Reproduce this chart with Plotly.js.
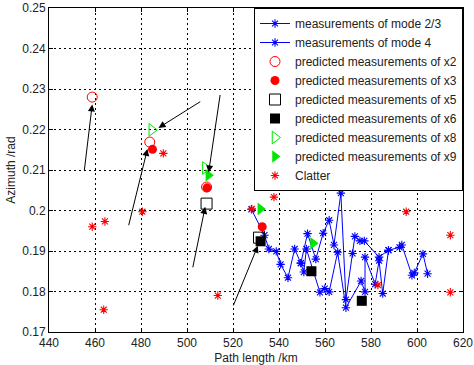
<!DOCTYPE html>
<html><head><meta charset="utf-8">
<script src="https://cdn.plot.ly/plotly-3.0.1.min.js"></script>
<style>html,body{margin:0;padding:0;background:#fff}#c{width:474px;height:365px}</style>
</head><body><div id="c"></div>
<script>
// Measurement tracks
const mode23X = [528.0, 533.7, 535.6, 538.8, 540.7, 543.9, 546.8, 549.5, 552.4, 556.0, 559.2, 561.8, 563.9, 566.9, 569.1, 572.0, 573.0, 575.2, 577.1, 583.5, 587.6, 592.4, 593.4, 597.8, 598.8, 602.6, 604.6];
const mode23Y = [0.2003, 0.1939, 0.1905, 0.1899, 0.1867, 0.1834, 0.1905, 0.1870, 0.1943, 0.1880, 0.1944, 0.1976, 0.1915, 0.2043, 0.1780, 0.1894, 0.1936, 0.1925, 0.1925, 0.1885, 0.1902, 0.1909, 0.1915, 0.1840, 0.1846, 0.1893, 0.1844];
const mode4X = [549.5, 550.8, 551.9, 557.8, 559.9, 561.8, 565.5, 569.1, 575.7, 577.4, 577.4, 581.8, 583.5, 585.1, 587.6];
const mode4Y = [0.1870, 0.1848, 0.1905, 0.1798, 0.1807, 0.1799, 0.1897, 0.1760, 0.1826, 0.1799, 0.1885, 0.1818, 0.1876, 0.1795, 0.1902];
// Predicted measurements
const x2X = [458.8, 483.8, 508.5]; const x2Y = [0.2280, 0.2169, 0.2058];
const x3X = [485.0, 508.7, 532.7]; const x3Y = [0.2151, 0.2056, 0.1960];
const x5X = [508.5, 531.3]; const x5Y = [0.2017, 0.1933];
const x6X = [532.0, 554.1, 576.0]; const x6Y = [0.1924, 0.1850, 0.1777];
const x8X = [484.7, 508.0]; const x8Y = [0.2199, 0.2105];
const x9X = [509.3, 531.9, 554.8]; const x9Y = [0.2087, 0.2004, 0.1919];
// Clutter
const clX = [489.7, 458.8, 464.3, 480.6, 463.8, 513.4, 537.8, 528.2, 595.3, 614.5, 614.5, 583.0];
const clY = [0.2141, 0.1960, 0.1973, 0.1997, 0.1755, 0.1790, 0.2033, 0.2004, 0.1997, 0.1939, 0.1798, 0.1816];
// Arrows: [tailX, tailY, headX, headY]
const arrows = [
  [455.3, 0.2096, 458.8, 0.2262],
  [474.5, 0.1960, 482.8, 0.2152],
  [506.4, 0.2271, 487.6, 0.2204],
  [514.5, 0.2289, 509.4, 0.2094],
  [502.4, 0.1856, 507.9, 0.2009],
  [519.9, 0.1762, 530.8, 0.1913]
];
const yTicks = [0.17, 0.18, 0.19, 0.2, 0.21, 0.22, 0.23, 0.24, 0.25];
const yTickText = ['0.17','0.18','0.19','0.2','0.21','0.22','0.23','0.24','0.25'];
const xTicks = [440, 460, 480, 500, 520, 540, 560, 580, 600, 620];

const BLUE = 'rgb(0,0,255)', RED = 'rgb(255,0,0)', GREEN = 'rgb(0,230,0)';
const star = (c) => ({symbol: 'asterisk-open', size: 7, color: c, line: {color: c, width: 1.1}});
const traces = [
  {x: mode23X, y: mode23Y, mode: 'lines+markers', name: 'measurements of mode 2/3', line: {color: BLUE, width: 1}, marker: star(BLUE)},
  {x: mode4X, y: mode4Y, mode: 'lines+markers', name: 'measurements of mode 4', line: {color: BLUE, width: 1}, marker: star(BLUE)},
  {x: x2X, y: x2Y, mode: 'markers', name: 'predicted measurements of x2', marker: {symbol: 'circle-open', size: 10, color: RED, line: {color: RED, width: 1}}},
  {x: x3X, y: x3Y, mode: 'markers', name: 'predicted measurements of x3', marker: {symbol: 'circle', size: 9, color: RED}},
  {x: x5X, y: x5Y, mode: 'markers', name: 'predicted measurements of x5', marker: {symbol: 'square-open', size: 11, color: '#000', line: {color: '#000', width: 1}}},
  {x: x6X, y: x6Y, mode: 'markers', name: 'predicted measurements of x6', marker: {symbol: 'square', size: 10, color: '#000'}},
  {x: x8X, y: x8Y, mode: 'markers', name: 'predicted measurements of x8', marker: {symbol: 'triangle-right-open', size: 11, color: GREEN, line: {color: GREEN, width: 1}}},
  {x: x9X, y: x9Y, mode: 'markers', name: 'predicted measurements of x9', marker: {symbol: 'triangle-right', size: 11, color: GREEN}},
  {x: clX, y: clY, mode: 'markers', name: 'Clatter', marker: star(RED)}
];
const annotations = arrows.map(a => ({
  x: a[2], y: a[3], ax: a[0], ay: a[1], xref: 'x', yref: 'y', axref: 'x', ayref: 'y',
  text: '', showarrow: true, arrowhead: 2, arrowsize: 1.4, arrowwidth: 1, arrowcolor: '#000'
}));
const axisCommon = {
  showgrid: true, gridcolor: '#000', griddash: '2px,3px', gridwidth: 1,
  zeroline: false, showline: true, linecolor: '#000', linewidth: 1, mirror: 'ticks',
  ticks: 'inside', ticklen: 4, tickcolor: '#000', ticklabeloverflow: 'allow',
  tickfont: {family: 'Arial, Liberation Sans, sans-serif', size: 12, color: '#222'}
};
const layout = {
  width: 474, height: 365,
  margin: {l: 49, r: 11, t: 8, b: 33},
  paper_bgcolor: '#fff', plot_bgcolor: '#fff',
  font: {family: 'Arial, Liberation Sans, sans-serif', size: 12, color: '#222'},
  xaxis: Object.assign({}, axisCommon, {range: [440, 620], tickvals: xTicks, title: {text: 'Path length /km', standoff: 4, font: {size: 12}}}),
  yaxis: Object.assign({}, axisCommon, {range: [0.17, 0.250001], tickvals: yTicks, ticktext: yTickText, title: {text: 'Azimuth /rad', standoff: 4, font: {size: 12}}}),
  showlegend: true,
  legend: {x: 1, y: 1, xanchor: 'right', yanchor: 'top', bgcolor: '#fff', bordercolor: '#000', borderwidth: 1,
           font: {family: 'Arial, Liberation Sans, sans-serif', size: 12, color: '#222'}, tracegroupgap: 0},
  annotations: annotations
};
Plotly.newPlot('c', traces, layout, {displayModeBar: false, staticPlot: true});
</script></body></html>
